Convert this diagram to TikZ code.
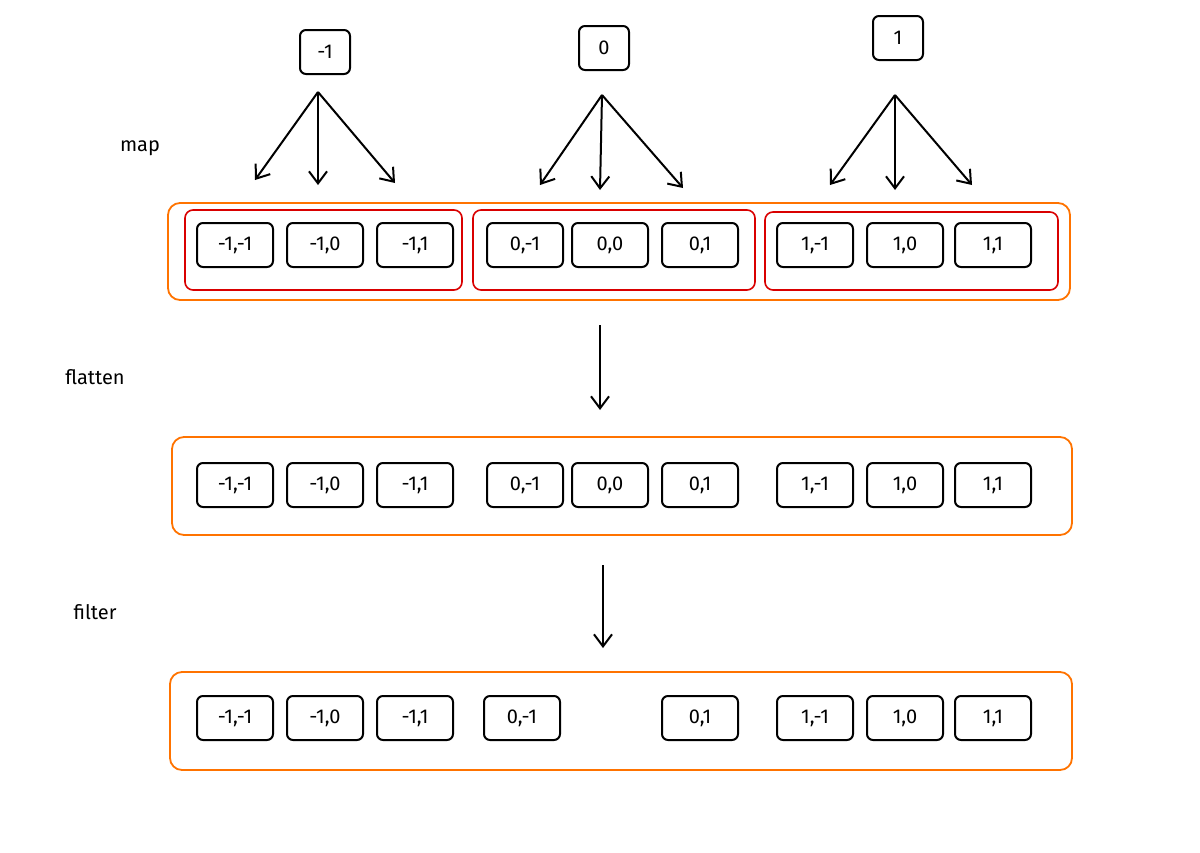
\documentclass[tikz,border=0pt]{standalone}
\usepackage{fontspec}
\setmainfont{Fira Sans}
\usetikzlibrary{arrows.meta}
\begin{document}
\begin{tikzpicture}[x=1pt,y=-1pt,
 cell/.style={draw=black,line width=2pt,rounded corners=6pt,minimum width=76pt,minimum height=44pt,font=\fontsize{20}{20}\selectfont,inner sep=0pt},
 top/.style={cell,minimum width=50pt,minimum height=44pt},
 grp/.style={draw=red!85!black,line width=1.6pt,rounded corners=8pt},
 row/.style={draw=orange!90!red,line width=1.8pt,rounded corners=12pt},
 arr/.style={draw=black,line width=2pt,-{Straight Barb[length=12pt,width=18pt]}},
 lbl/.style={font=\fontsize{20}{20}\selectfont}]
\useasboundingbox (0,0) rectangle (1200,852);
\node[top] (tm) at (325,52) {-1};
\node[top] (tz) at (604,48) {0};
\node[top] (tp) at (898,38) {1};
\coordinate (sm) at (318,92); \coordinate (sz) at (602,95); \coordinate (sp) at (895,95);
\coordinate (a1) at (255,180); \coordinate (a2) at (318,185); \coordinate (a3) at (395,183);
\coordinate (b1) at (540,185); \coordinate (b2) at (600,190); \coordinate (b3) at (683,188);
\coordinate (c1) at (830,185); \coordinate (c2) at (895,190); \coordinate (c3) at (972,185);
\foreach \t in {a1,a2,a3} \draw[arr] (sm) -- (\t);
\foreach \t in {b1,b2,b3} \draw[arr] (sz) -- (\t);
\foreach \t in {c1,c2,c3} \draw[arr] (sp) -- (\t);
\node[lbl] (lm) at (140,148) {map};
\node[lbl] (lf) at (95,377) {flatten};
\node[lbl] (lt) at (95,612) {filter};
\draw[row] (168,203) rectangle (1070,300);
\draw[grp] (185,210) rectangle (462,290);
\draw[grp] (473,210) rectangle (755,290);
\draw[grp] (765,212) rectangle (1058,290);
\draw[row] (172,437) rectangle (1072,535);
\draw[row] (170,672) rectangle (1072,770);
\foreach \x/\s/\n in {235/{-1,-1}/1,325/{-1,0}/2,415/{-1,1}/3,525/{0,-1}/4,610/{0,0}/5,700/{0,1}/6,815/{1,-1}/7,905/{1,0}/8,993/{1,1}/9}{
 \node[cell] (r1c\n) at (\x,245) {\s};
 \node[cell] (r2c\n) at (\x,485) {\s};
}
\foreach \x/\s/\n in {235/{-1,-1}/1,325/{-1,0}/2,415/{-1,1}/3,522/{0,-1}/4,700/{0,1}/6,815/{1,-1}/7,905/{1,0}/8,993/{1,1}/9}
 \node[cell] (r3c\n) at (\x,718) {\s};
\coordinate (f1) at (600,325); \coordinate (f2) at (600,410);
\coordinate (g1) at (603,565); \coordinate (g2) at (603,648);
\draw[arr] (f1) -- (f2);
\draw[arr] (g1) -- (g2);
\end{tikzpicture}
\end{document}
